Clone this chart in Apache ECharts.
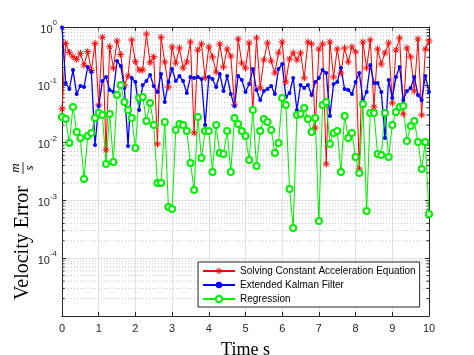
<!DOCTYPE html>
<html><head><meta charset="utf-8">
<script src="https://cdn.jsdelivr.net/npm/echarts@6/dist/echarts.min.js"></script>
<style>html,body{margin:0;padding:0;background:#fff}#c{width:474px;height:355px}</style>
</head><body><div id="c"></div>
<script>
const time = [0,0.1,0.2,0.3,0.4,0.5,0.6,0.7,0.8,0.9,1,1.1,1.2,1.3,1.4,1.5,1.6,1.7,1.8,1.9,2,2.1,2.2,2.3,2.4,2.5,2.6,2.7,2.8,2.9,3,3.1,3.2,3.3,3.4,3.5,3.6,3.7,3.8,3.9,4,4.1,4.2,4.3,4.4,4.5,4.6,4.7,4.8,4.9,5,5.1,5.2,5.3,5.4,5.5,5.6,5.7,5.8,5.9,6,6.1,6.2,6.3,6.4,6.5,6.6,6.7,6.8,6.9,7,7.1,7.2,7.3,7.4,7.5,7.6,7.7,7.8,7.9,8,8.1,8.2,8.3,8.4,8.5,8.6,8.7,8.8,8.9,9,9.1,9.2,9.3,9.4,9.5,9.6,9.7,9.8,9.9,10];

const solvingCAE = [0.0381,0.522,0.365,0.306,0.276,0.351,0.220,0.374,0.177,0.522,
 0.0448,0.664,0.00745,0.456,0.195,0.573,0.334,0.099,0.142,0.596,
 0.251,0.180,0.180,0.757,0.241,0.306,0.00946,0.664,0.248,0.0916,
 0.451,0.238,0.433,0.195,0.248,0.550,0.01466,0.400,0.508,0.131,
 0.451,0.303,0.166,0.508,0.203,0.416,0.315,0.0448,0.620,0.238,
 0.195,0.529,0.0366,0.645,0.0881,0.269,0.529,0.258,0.160,0.355,
 0.550,0.112,0.279,0.355,0.269,0.355,0.131,0.550,0.508,0.0179,
 0.416,0.508,0.00427,0.550,0.136,0.416,0.160,0.433,0.248,0.451,
 0.369,0.00349,0.550,0.195,0.596,0.0413,0.416,0.229,0.355,0.529,
 0.0484,0.400,0.645,0.0313,0.433,0.303,0.0781,0.620,0.0300,0.416,
 0.573];

const ekf = [0.98,0.107,0.0846,0.180,0.0693,0.0953,0.0916,0.203,0.166,0.00909,
 0.0430,0.116,0.136,0.0813,0.0751,0.258,0.212,0.0881,0.00874,0.131,
 0.112,0.0366,0.0992,0.116,0.148,0.0953,0.0751,0.154,0.0504,0.112,
 0.188,0.116,0.142,0.116,0.0722,0.136,0.131,0.136,0.126,0.0202,
 0.136,0.126,0.0916,0.154,0.0781,0.142,0.0693,0.0430,0.142,0.121,
 0.0751,0.103,0.188,0.0813,0.0546,0.0781,0.0846,0.0953,0.0693,0.188,
 0.229,0.0615,0.0722,0.131,0.0366,0.0992,0.0881,0.0992,0.0666,0.112,
 0.131,0.180,0.160,0.0289,0.103,0.112,0.195,0.0846,0.0813,0.0693,
 0.112,0.160,0.0546,0.0751,0.220,0.107,0.107,0.0751,0.0120,0.121,
 0.0591,0.136,0.203,0.0546,0.0781,0.0881,0.136,0.0666,0.0546,0.142,
 0.0751];

const regression = [0.0277,0.0256,0.00984,0.0413,0.0153,0.0120,0.00235,0.0130,0.0147,0.0267,
 0.0325,0.0300,0.00427,0.0313,0.00462,0.0666,0.0992,0.0504,0.0366,0.0267,
 0.00807,0.0591,0.0615,0.0236,0.0484,0.0202,0.00200,0.00200,0.0227,0.000769,
 0.000710,0.0165,0.0210,0.0202,0.0159,0.00444,0.00151,0.0277,0.00542,0.0159,
 0.0159,0.00310,0.0202,0.00661,0.00635,0.0159,0.00310,0.0267,0.0210,0.0159,
 0.0130,0.00500,0.0366,0.00394,0.0159,0.0256,0.0227,0.0165,0.00661,0.00984,
 0.0591,0.0448,0.00157,0.000333,0.0300,0.0313,0.0397,0.0256,0.0153,0.0267,
 0.000440,0.0448,0.0504,0.00946,0.0147,0.0159,0.00310,0.0289,0.0120,0.0147,
 0.00564,0.00298,0.0465,0.000656,0.0325,0.0325,0.00635,0.00610,0.0325,0.00564,
 0.0202,0.0338,0.0413,0.0430,0.0107,0.0194,0.0236,0.0102,0.00349,0.0102,
 0.000582];

const seriesNames = ['Solving Constant Acceleration Equation','Extended Kalman Filter','Regression'];
const xTickLabels = ['0','1','2','3','4','5','6','7','8','9','10'];
const yTickExponents = [0,-1,-2,-3,-4];
const yMin = 1e-5, yMax = 1;
const xTitle = 'Time s';
const yTitle = 'Velocity Error';

const pair = arr => arr.map((v, i) => [time[i], v]);
const minorVals = [];
for (let e = -5; e < 0; e++) for (let m = 2; m <= 9; m++) minorVals.push(m * Math.pow(10, e));
// minor grid lines and minor ticks as line segments on the log axis
const minorGrid = [], minorTicks = [];
minorVals.forEach(v => {
  minorGrid.push([0, v], [10, v], [10, '-']);
  minorTicks.push([0, v], [0.07, v], [0.07, '-'], [9.93, v], [10, v], [10, '-']);
});

const axisColor = '#262626';
const sans = '"Liberation Sans", Arial, sans-serif';
const serif = '"Liberation Serif", "Times New Roman", serif';

const chart = echarts.init(document.getElementById('c'), null, {renderer: 'canvas'});
chart.setOption({
  animation: false,
  backgroundColor: '#fff',
  grid: {left: 62, right: 45, top: 27, bottom: 39, containLabel: false, outerBoundsMode: 'none'},
  legend: {
    data: seriesNames,
    orient: 'vertical', left: 198, top: 262,
    itemWidth: 32, itemHeight: 8, itemGap: 2,
    padding: [3, 4, 2, 4],
    borderColor: axisColor, borderWidth: 1, backgroundColor: '#fff',
    itemStyle: {borderWidth: 1},
    textStyle: {fontSize: 10, lineHeight: 12, fontFamily: sans, color: '#000'}
  },
  xAxis: [{
    type: 'value', min: 0, max: 10, interval: 1,
    name: xTitle, nameLocation: 'middle', nameGap: 25,
    nameTextStyle: {fontFamily: serif, fontSize: 18, color: '#000'},
    axisLine: {show: true, onZero: false, lineStyle: {color: axisColor}},
    axisTick: {inside: true, length: 4, lineStyle: {color: axisColor}},
    axisLabel: {color: axisColor, fontSize: 11, fontFamily: sans, margin: 7,
      formatter: v => xTickLabels[Math.round(v)]},
    splitLine: {show: true, lineStyle: {color: '#e2e2e2', width: 1}}
  }, {
    type: 'value', position: 'top', min: 0, max: 10, interval: 1,
    axisLine: {show: true, onZero: false, lineStyle: {color: axisColor}},
    axisTick: {inside: true, length: 4, lineStyle: {color: axisColor}},
    axisLabel: {show: false}, splitLine: {show: false}
  }],
  yAxis: [{
    type: 'log', logBase: 10, min: yMin, max: yMax, splitNumber: 5,
    axisLine: {show: true, onZero: false, lineStyle: {color: axisColor}},
    axisTick: {inside: true, length: 4, lineStyle: {color: axisColor}},
    axisLabel: {
      color: axisColor, margin: 5,
      formatter: v => {
        const e = Math.round(Math.log10(v));
        return yTickExponents.includes(e) ? '{b|10}{s|' + e + '}' : '';
      },
      rich: {
        b: {fontSize: 11, fontFamily: sans, color: axisColor, lineHeight: 16, verticalAlign: 'bottom'},
        s: {fontSize: 8, fontFamily: sans, color: axisColor, lineHeight: 16, verticalAlign: 'top'}
      }
    },
    splitLine: {show: true, lineStyle: {color: '#e2e2e2', width: 1}}
  }, {
    type: 'log', logBase: 10, min: yMin, max: yMax, splitNumber: 5, position: 'right',
    axisLine: {show: true, onZero: false, lineStyle: {color: axisColor}},
    axisTick: {inside: true, length: 4, lineStyle: {color: axisColor}},
    axisLabel: {show: false}, splitLine: {show: false}
  }],
  graphic: [{
    type: 'group', x: 23, y: 243, rotation: Math.PI / 2,
    children: [
      {type: 'text', x: 0, y: 0, style: {text: yTitle, font: '20px ' + serif, fill: '#000', align: 'center', verticalAlign: 'middle'}},
      {type: 'text', x: 75, y: -7, style: {text: 'm', font: 'italic 13px ' + serif, fill: '#000', align: 'center', verticalAlign: 'middle'}},
      {type: 'line', shape: {x1: 69, y1: 0, x2: 81, y2: 0}, style: {stroke: '#000', lineWidth: 0.8}},
      {type: 'text', x: 75, y: 7, style: {text: 's', font: 'italic 13px ' + serif, fill: '#000', align: 'center', verticalAlign: 'middle'}}
    ]
  }],
  series: [{
    type: 'line', data: minorGrid, silent: true, z: 1, symbol: 'none',
    connectNulls: false,
    lineStyle: {type: [1, 2], color: '#c4c4c4', width: 1}
  }, {
    type: 'line', data: minorTicks, silent: true, z: 1, symbol: 'none',
    connectNulls: false,
    lineStyle: {color: axisColor, width: 1}
  }, {
    name: seriesNames[0], type: 'line', data: pair(solvingCAE), z: 3,
    symbol: 'path://M0,-10L0,10M-10,0L10,0M-7,-7L7,7M-7,7L7,-7', symbolSize: 7,
    itemStyle: {color: '#ff0000', borderColor: '#ff0000', borderWidth: 1},
    lineStyle: {color: '#ff0000', width: 1}
  }, {
    name: seriesNames[1], type: 'line', data: pair(ekf), z: 3,
    symbol: 'circle', symbolSize: 4,
    itemStyle: {color: '#0000ff'},
    lineStyle: {color: '#0000ff', width: 1.3}
  }, {
    name: seriesNames[2], type: 'line', data: pair(regression), z: 3,
    symbol: 'emptyCircle', symbolSize: 6,
    itemStyle: {color: '#00ee00', borderWidth: 1},
    lineStyle: {color: '#00ee00', width: 1}
  }]
});
</script></body></html>
